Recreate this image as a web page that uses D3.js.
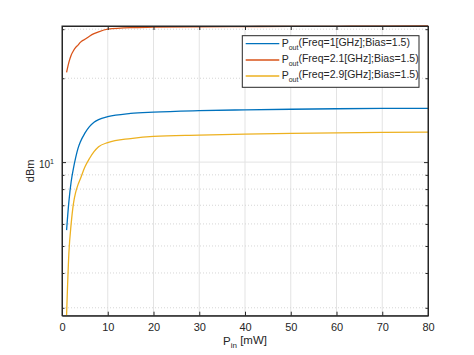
<!DOCTYPE html>
<html><head><meta charset="utf-8">
<script src="https://cdn.jsdelivr.net/npm/d3@7/dist/d3.min.js"></script>
<style>
body{margin:0;background:#fff}
svg{display:block}
text{font-family:"Liberation Sans",Arial,Helvetica,sans-serif;fill:#262626}
</style>
</head><body>
<svg id="chart" width="474" height="355"></svg>
<script>
// ---- data ----
const pin = [1, 1.5, 2, 2.5, 3, 3.5, 4, 5, 6, 7, 8, 10, 15, 20, 30, 40, 50, 60, 70, 80];
const pout1GHz  = [5.7, 7.2, 8.5, 9.5, 10.4, 11.2, 11.8, 12.7, 13.4, 13.9, 14.2, 14.55, 14.95, 15.12, 15.3, 15.4, 15.48, 15.54, 15.58, 15.6];
const pout21GHz = [21.0, 22.8, 24.2, 25.1, 25.8, 26.3, 26.9, 27.6, 28.3, 28.9, 29.35, 30.0, 30.4, 30.5, 30.6, 30.65, 30.7, 30.73, 30.76, 30.8];
const pout29GHz = [2.82, 4.7, 6.0, 7.1, 7.8, 8.3, 8.7, 9.6, 10.3, 10.9, 11.35, 11.75, 12.15, 12.38, 12.5, 12.6, 12.68, 12.74, 12.79, 12.82];
const seriesNames = ["(Freq=1[GHz];Bias=1.5)", "(Freq=2.1[GHz];Bias=1.5)", "(Freq=2.9[GHz];Bias=1.5)"];
const seriesColors = ["#0072BD", "#D95319", "#EDB120"];
const xTicks = [0, 10, 20, 30, 40, 50, 60, 70, 80];
const yMajorTicks = [10];
const yMinorTicks = [3, 4, 5, 6, 7, 8, 9, 20, 30];
const xDomain = [0, 80];
const yDomain = [2.81, 30.8];

// ---- layout ----
const W = 474, H = 355;
const m = {left: 62, top: 26, right: 46, bottom: 39.3};
const iw = W - m.left - m.right, ih = H - m.top - m.bottom;
const axisColor = "#262626";
const gridColor = "#e3e3e3";

const svg = d3.select("#chart");
const g = svg.append("g").attr("transform", `translate(${m.left},${m.top})`);

const x = d3.scaleLinear().domain(xDomain).range([0, iw]);
const y = d3.scaleLog().domain(yDomain).range([ih, 0]);

// grid
const grid = g.append("g");
grid.selectAll(".gx").data(xTicks.slice(1, -1)).join("line")
  .attr("x1", d => x(d)).attr("x2", d => x(d)).attr("y1", 0).attr("y2", ih)
  .attr("stroke", gridColor).attr("stroke-width", 1);
grid.selectAll(".gy").data(yMajorTicks).join("line")
  .attr("x1", 0).attr("x2", iw).attr("y1", d => y(d)).attr("y2", d => y(d))
  .attr("stroke", gridColor).attr("stroke-width", 1);
grid.selectAll(".gym").data(yMinorTicks).join("line")
  .attr("x1", 0).attr("x2", iw).attr("y1", d => y(d)).attr("y2", d => y(d))
  .attr("stroke", "#d6d6d6").attr("stroke-width", 1).attr("stroke-dasharray", "1,2");

// lines
const series = [pout1GHz, pout21GHz, pout29GHz];
const line = d3.line().x((d, i) => x(pin[i])).y(d => y(d)).curve(d3.curveMonotoneX);
svg.append("defs").append("clipPath").attr("id", "clip")
  .append("rect").attr("x", 0).attr("y", -1).attr("width", iw).attr("height", ih + 1);
g.append("g").attr("clip-path", "url(#clip)").selectAll("path").data(series).join("path")
  .attr("d", line).attr("fill", "none")
  .attr("stroke", (d, i) => seriesColors[i]).attr("stroke-width", 1.3);

// axes
function styleAxis(sel) {
  sel.selectAll(".domain").attr("stroke", axisColor);
  sel.selectAll(".tick line").attr("stroke", axisColor);
  sel.selectAll(".tick text").attr("fill", axisColor).style("font-size", "11px")
     .style("font-family", '"Liberation Sans",Arial,sans-serif');
}
const xb = g.append("g").attr("transform", `translate(0,${ih})`)
  .call(d3.axisBottom(x).tickValues(xTicks).tickSizeInner(-4).tickSizeOuter(0).tickPadding(8).tickFormat(d3.format("d")));
styleAxis(xb);
const xt = g.append("g")
  .call(d3.axisTop(x).tickValues(xTicks).tickSizeInner(-4).tickSizeOuter(0).tickFormat(""));
styleAxis(xt);

const yl = g.append("g")
  .call(d3.axisLeft(y).tickValues(yMajorTicks).tickSizeInner(-4).tickSizeOuter(0).tickPadding(6).tickFormat(""));
styleAxis(yl);
yl.selectAll(".tick").append("text")
  .attr("x", -8).attr("dy", "0.55em").attr("text-anchor", "end")
  .style("font-size", "10px").attr("fill", axisColor)
  .each(function(d) {
    const t = d3.select(this);
    t.append("tspan").text("10");
    t.append("tspan").attr("dy", "-0.55em").style("font-size", "7px").text(String(Math.round(Math.log10(d))));
  });
const ylm = g.append("g").call(d3.axisLeft(y).tickValues(yMinorTicks).tickSizeInner(-2.5).tickSizeOuter(0).tickFormat(""));
styleAxis(ylm); ylm.select(".domain").remove();

const yr = g.append("g").attr("transform", `translate(${iw},0)`)
  .call(d3.axisRight(y).tickValues(yMajorTicks).tickSizeInner(-4).tickSizeOuter(0).tickFormat(""));
styleAxis(yr);
const yrm = g.append("g").attr("transform", `translate(${iw},0)`)
  .call(d3.axisRight(y).tickValues(yMinorTicks).tickSizeInner(-2.5).tickSizeOuter(0).tickFormat(""));
styleAxis(yrm); yrm.select(".domain").remove();

// frame
g.append("rect").attr("x", 0).attr("y", 0).attr("width", iw).attr("height", ih)
  .attr("fill", "none").attr("stroke", axisColor).attr("stroke-width", 1);

// axis labels
const xlab = svg.append("text").attr("x", m.left + iw / 2).attr("y", 345)
  .attr("text-anchor", "middle").style("font-size", "11.5px");
xlab.append("tspan").text("P");
xlab.append("tspan").attr("dy", "0.35em").style("font-size", "8px").text("in");
xlab.append("tspan").attr("dy", "-0.35em").text(" [mW]");

svg.append("text").attr("transform", `translate(33.5,${m.top + ih / 2}) rotate(-90)`)
  .attr("text-anchor", "middle").style("font-size", "11px").text("dBm");

// legend
const lg = svg.append("g").attr("transform", "translate(242.3,35.7)");
lg.append("rect").attr("width", 176.7).attr("height", 51.6)
  .attr("fill", "#fff").attr("stroke", axisColor).attr("stroke-width", 1);
const rowY = [8, 24.3, 40.3];
series.forEach((s, i) => {
  lg.append("line").attr("x1", 3.4).attr("x2", 37).attr("y1", rowY[i]).attr("y2", rowY[i])
    .attr("stroke", seriesColors[i]).attr("stroke-width", 1.3);
  const t = lg.append("text").attr("x", 39.4).attr("y", rowY[i]).attr("dy", "0.32em")
    .style("font-size", "10.5px");
  t.append("tspan").text("P");
  t.append("tspan").attr("dy", "0.4em").style("font-size", "7px").text("out");
  t.append("tspan").attr("dy", "-0.4em").text(seriesNames[i]);
});
</script>
</body></html>
